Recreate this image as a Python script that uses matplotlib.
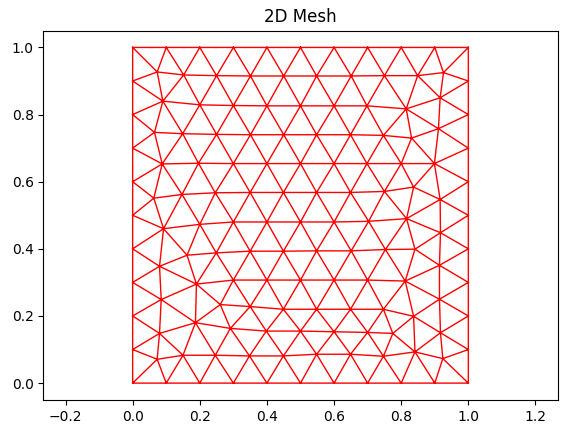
import numpy as np
import matplotlib.pyplot as plt
import matplotlib.tri as mtri

# boundary nodes of the unit square (spacing 0.1)
edge = [round(0.1 * i, 1) for i in range(11)]

# interior nodes (top to bottom)
row_x = [
    [0.073, 0.152, 0.25, 0.351, 0.45, 0.548, 0.651, 0.75, 0.849, 0.926],
    [0.09, 0.2, 0.3, 0.4, 0.5, 0.6, 0.698, 0.815, 0.916],
    [0.065, 0.149, 0.25, 0.351, 0.45, 0.548, 0.649, 0.747, 0.831, 0.911],
    [0.088, 0.196, 0.3, 0.4, 0.5, 0.6, 0.698, 0.8, 0.899],
    [0.063, 0.147, 0.246, 0.35, 0.449, 0.548, 0.649, 0.75, 0.837, 0.916],
    [0.092, 0.2, 0.3, 0.4, 0.5, 0.6, 0.703, 0.816, 0.917],
    [0.08, 0.162, 0.249, 0.35, 0.449, 0.548, 0.651, 0.753, 0.841, 0.914],
    [0.085, 0.19, 0.3, 0.4, 0.5, 0.6, 0.7, 0.812, 0.914],
    [0.187, 0.261, 0.35, 0.449, 0.548, 0.649, 0.747, 0.837],
    [0.08, 0.291, 0.398, 0.5, 0.6, 0.7, 0.775, 0.917],
    [0.073, 0.15, 0.246, 0.348, 0.449, 0.548, 0.649, 0.747, 0.841, 0.924],
]
row_y = [
    [0.927, 0.918, 0.916, 0.915, 0.915, 0.915, 0.915, 0.916, 0.916, 0.925],
    [0.84, 0.829, 0.827, 0.826, 0.826, 0.826, 0.826, 0.817, 0.85],
    [0.747, 0.743, 0.741, 0.74, 0.74, 0.74, 0.74, 0.738, 0.73, 0.758],
    [0.653, 0.655, 0.654, 0.654, 0.654, 0.654, 0.654, 0.654, 0.654],
    [0.551, 0.562, 0.567, 0.568, 0.568, 0.568, 0.568, 0.571, 0.584, 0.547],
    [0.46, 0.473, 0.48, 0.48, 0.48, 0.48, 0.482, 0.49, 0.448],
    [0.348, 0.381, 0.388, 0.393, 0.393, 0.394, 0.394, 0.398, 0.399, 0.351],
    [0.249, 0.295, 0.307, 0.307, 0.307, 0.307, 0.307, 0.304, 0.25],
    [0.18, 0.234, 0.228, 0.22, 0.22, 0.22, 0.22, 0.199],
    [0.148, 0.163, 0.155, 0.155, 0.153, 0.151, 0.148, 0.15],
    [0.071, 0.083, 0.083, 0.081, 0.081, 0.086, 0.086, 0.08, 0.093, 0.073],
]

xs, ys = [], []
for v in edge:
    xs += [v, v, 0.0, 1.0]
    ys += [0.0, 1.0, v, v]
for rx, ry in zip(row_x, row_y):
    xs += rx
    ys += ry
pts = np.unique(np.round(np.column_stack([xs, ys]), 4), axis=0)

tri = mtri.Triangulation(pts[:, 0], pts[:, 1])

fig = plt.figure(figsize=(5.79, 4.38), dpi=100)
ax = fig.add_axes([0.075, 0.087, 0.888, 0.843])
ax.triplot(tri, color='red', lw=1)
ax.set_title('2D Mesh')
ax.axis('equal')
ax.set_xticks([-0.2, 0.0, 0.2, 0.4, 0.6, 0.8, 1.0, 1.2])
ax.set_yticks([0.0, 0.2, 0.4, 0.6, 0.8, 1.0])
fig.savefig('out.png')
